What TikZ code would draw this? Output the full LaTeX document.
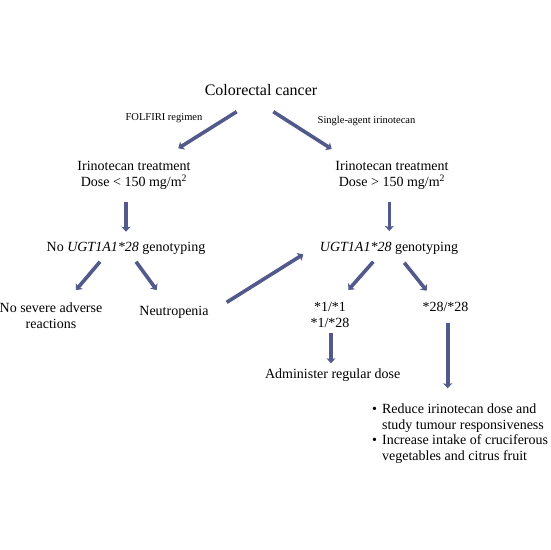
\documentclass[tikz,border=0pt]{standalone}
\usepackage{fontspec}
\setmainfont{Liberation Serif}
\usetikzlibrary{arrows.meta}
\definecolor{arrcol}{RGB}{82,90,140}
\begin{document}
\begin{tikzpicture}[x=1pt,y=-1pt,
  txt/.style={inner sep=0pt,align=center,font=\fontsize{14}{15.7}\selectfont},
  ttl/.style={inner sep=0pt,font=\fontsize{16}{18}\selectfont},
  lbl/.style={inner sep=0pt,font=\fontsize{10.5}{12}\selectfont},
  arr/.style={draw=arrcol,line width=3.6pt,-{Stealth[length=5pt,width=9pt,inset=1pt]}}]
\useasboundingbox[fill=white] (0,0) rectangle (550,550);
\node[ttl] (title) at (261,90) {Colorectal cancer};
\node[lbl] (folfiri) at (164,118) {FOLFIRI regimen};
\node[lbl] (single) at (366.5,121) {Single-agent irinotecan};
\node[txt] (irL) at (134,175.5) {Irinotecan treatment\\Dose < 150 mg/m\textsuperscript{2}};
\node[txt] (irR) at (392,175.5) {Irinotecan treatment\\Dose > 150 mg/m\textsuperscript{2}};
\node[txt] (noG) at (126,248.3) {No \textit{UGT1A1*28} genotyping};
\node[txt] (G) at (389,248.3) {\textit{UGT1A1*28} genotyping};
\node[txt] (nosev) at (51,315.5) {No severe adverse\\reactions};
\node[txt] (neut) at (174,312.3) {Neutropenia};
\node[txt] (g11) at (330,315) {*1/*1\\*1/*28};
\node[txt] (g28) at (445.5,306.7) {*28/*28};
\node[txt] (admin) at (332.7,375) {Administer regular dose};
\node[txt,anchor=west,align=left] (bul) at (372,434) {%
  \begin{tabular}{@{}l@{\hspace{5pt}}l@{}}
  \textbullet & Reduce irinotecan dose and\\
              & study tumour responsiveness\\
  \textbullet & Increase intake of cruciferous\\
              & vegetables and citrus fruit
  \end{tabular}};
\draw[arr] ([shift={(-24.3,21.7)}]title.center) -- ([shift={(44.3,-27.2)}]irL.center);
\draw[arr] ([shift={(12.3,21.7)}]title.center) -- ([shift={(-60.3,-26.5)}]irR.center);
\draw[arr] ([shift={(-8,26.2)}]irL.center) -- ([shift={(0,-16.6)}]noG.center);
\draw[arr] ([shift={(-2.7,26.2)}]irR.center) -- ([shift={(0.3,-17.3)}]G.center);
\draw[arr] ([shift={(-26,13.4)}]noG.center) -- ([shift={(25,-25.5)}]nosev.center);
\draw[arr] ([shift={(10,13.4)}]noG.center) -- ([shift={(-17.3,-22.3)}]neut.center);
\draw[arr] ([shift={(52.7,-10)}]neut.center) -- ([shift={(-85.7,6)}]G.center);
\draw[arr] ([shift={(-15.7,13.4)}]G.center) -- ([shift={(18.3,-25)}]g11.center);
\draw[arr] ([shift={(15.3,14.4)}]G.center) -- ([shift={(-18.8,-16)}]g28.center);
\draw[arr] ([shift={(1,18.3)}]g11.center) -- ([shift={(-1.7,-11.7)}]admin.center);
\draw[arr] ([shift={(2.2,16)}]g28.center) -- ([shift={(75.7,-45.7)}]bul.west);
\end{tikzpicture}
\end{document}
